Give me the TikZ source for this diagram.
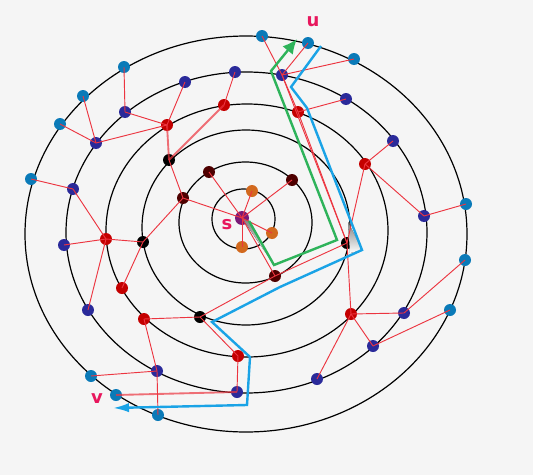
\documentclass[tikz,border=0pt]{standalone}
\usepackage{fontspec}
\setsansfont{DejaVu Sans}
\usetikzlibrary{arrows.meta}
\definecolor{paper}{HTML}{F5F5F5}
\definecolor{srcc}{HTML}{7A1A78}
\definecolor{hopa}{HTML}{D2691E}
\definecolor{hopb}{HTML}{4E0000}
\definecolor{hopc}{HTML}{000000}
\definecolor{hopd}{HTML}{C40000}
\definecolor{hope}{HTML}{2A2A9A}
\definecolor{hopf}{HTML}{0A7AB8}
\definecolor{linkc}{HTML}{EC3540}
\definecolor{greenc}{HTML}{2EB35A}
\definecolor{bluec}{HTML}{1AA3E6}
\definecolor{tagc}{HTML}{E8175D}
\definecolor{shade}{HTML}{D3D3D3}

\begin{document}
\begin{tikzpicture}[x=0.75pt,y=-0.75pt,
    dot/.style={shape=circle,inner sep=0pt,minimum size=9pt},
    src/.style={dot,fill=srcc,minimum size=10.5pt},
    hop1/.style={dot,fill=hopa},
    hop2/.style={dot,fill=hopb},
    hop3/.style={dot,fill=hopc},
    hop4/.style={dot,fill=hopd},
    hop5/.style={dot,fill=hope},
    hop6/.style={dot,fill=hopf},
    ring/.style={draw=black,line width=0.9pt},
    link/.style={draw=linkc,line width=0.7pt},
    widelink/.style={draw=linkc,line width=1.4pt,opacity=0.7},
    walk/.style={line width=1.8pt,line join=miter},
    tag/.style={text=tagc,font=\sffamily\bfseries\fontsize{13.5}{16}\selectfont}]
            \fill[paper](0,0)rectangle(533,475);
            \useasboundingbox(0,0)rectangle(533,475);
            % rings
            \draw[ring](243.5,219)ellipse[x radius=31.5,y radius=30];
            \draw[ring](245.5,222.5)ellipse[x radius=66.5,y radius=60.5];
            \draw[ring](246,227.5)ellipse[x radius=104,y radius=97.5];
            \draw[ring](247,230.5)ellipse[x radius=141,y radius=126.5];
            \draw[ring](246.5,232.5)ellipse[x radius=180.5,y radius=160.5];
            \draw[ring](246,234)ellipse[x radius=221,y radius=198];
            % nodes
            \node[src](s)at(242, 218){};
            \node[hop1](a1)at(252, 191){};
            \node[hop1](a2)at(272, 233){};
            \node[hop1](a3)at(242, 247){};
            \node[hop2](b1)at(209, 172){};
            \node[hop2](b2)at(292, 180){};
            \node[hop2](b3)at(183, 198){};
            \node[hop2](b4)at(275, 276){};
            \node[hop3](c1)at(169, 160){};
            \node[hop3](c2)at(143, 242){};
            \node[hop3](c3)at(347, 243){};
            \node[hop3](c4)at(200, 317){};
            \node[hop4](d1)at(224, 105){};
            \node[hop4](d2)at(167, 125){};
            \node[hop4](d3)at(298, 112){};
            \node[hop4](d4)at(365, 164){};
            \node[hop4](d5)at(106, 239){};
            \node[hop4](d6)at(122, 288){};
            \node[hop4](d7)at(144, 319){};
            \node[hop4](d8)at(351, 314){};
            \node[hop4](d9)at(238, 356){};
            \node[hop5](e1)at(235, 72){};
            \node[hop5](e2)at(185, 82){};
            \node[hop5](e3)at(125, 112){};
            \node[hop5](e4)at(96, 143){};
            \node[hop5](e5)at(73, 189){};
            \node[hop5](e6)at(64, 245){};
            \node[hop5](e7)at(88, 310){};
            \node[hop5](e8)at(282, 75){};
            \node[hop5](e9)at(346, 99){};
            \node[hop5](e10)at(393, 141){};
            \node[hop5](e11)at(424, 216){};
            \node[hop5](e12)at(404, 313){};
            \node[hop5](e13)at(373, 346){};
            \node[hop5](e14)at(317, 379){};
            \node[hop5](e15)at(157, 371){};
            \node[hop5](e16)at(237, 392){};
            \node[hop6](f1)at(262, 36){};
            \node[hop6](f2)at(308, 43){};
            \node[hop6](f3)at(354, 59){};
            \node[hop6](f4)at(124, 67){};
            \node[hop6](f5)at(83, 96){};
            \node[hop6](f6)at(60, 124){};
            \node[hop6](f7)at(31, 179){};
            \node[hop6](f8)at(466, 204){};
            \node[hop6](f9)at(465, 260){};
            \node[hop6](f10)at(450, 310){};
            \node[hop6](f11)at(91, 376){};
            \node[hop6](f12)at(116, 395){};
            \node[hop6](f13)at(158, 415){};
            % shaded gaps
            \coordinate(g0)at(249, 221);
            \coordinate(g1)at(274, 265);
            \coordinate(g2)at(337, 240);
            \coordinate(g3)at(271, 71);
            \coordinate(u)at(297, 39);
            \coordinate(h0)at(321, 46);
            \coordinate(h1)at(291, 87);
            \coordinate(h2)at(307, 108);
            \coordinate(h3)at(362, 250);
            \coordinate(h4)at(280, 287);
            \coordinate(h5)at(212, 322);
            \coordinate(h6)at(250, 357);
            \coordinate(h7)at(247, 405);
            \coordinate(v)at(113, 408);
            \fill[shade](s.center)--(g0)--(272, 262)--cycle;
            \fill[shade](348, 222)--(h3)--(350, 253)--cycle;
            % tree links
            \path[link](s.center) edge (a1.center) edge (a2.center) edge (a3.center)
            edge (b1.center) edge (b2.center) edge (b3.center) edge (b4.center)
            (b3.center) edge (c1.center) edge (c2.center)
            (b4.center) edge (c3.center) edge (c4.center)
            (c2.center) edge (d5.center) edge (d6.center)
            (c3.center) edge (d3.center) edge (d4.center) edge (d8.center) edge (e8.center)
            (c4.center) edge (d7.center) edge (d9.center)
            (d1.center) edge (e1.center)
            (d2.center) edge (e2.center) edge (e3.center) edge (e4.center)
            (d3.center) edge (e8.center) edge (e9.center)
            (d4.center) edge (e10.center) edge (e11.center)
            (d5.center) edge (e5.center) edge (e6.center) edge (e7.center)
            (d7.center) edge (e15.center)
            (d8.center) edge (e12.center) edge (e13.center) edge (e14.center)
            (d9.center) edge (e16.center)
            (e3.center) edge (f4.center)
            (e4.center) edge (f5.center) edge (f6.center)
            (e5.center) edge (f7.center)
            (e8.center) edge (f1.center) edge (f2.center) edge (f3.center)
            (e11.center) edge (f8.center)
            (e12.center) edge (f9.center)
            (e13.center) edge (f10.center)
            (e15.center) edge (f11.center) edge (f13.center);
            \path[widelink](c1.center) edge (d1.center) edge (d2.center)
            (e16.center) edge (f12.center);
            % walks
            \draw[walk,greenc,-{Latex[length=11pt,width=10pt]}](g0)--(g1)--(g2)--(g3)--(u);
            \draw[walk,bluec,-{Latex[length=12pt,width=7pt]}](h0)--(h1)--(h2)--(h3)--(h4)--(h5)--(h6)--(h7)--(v);
            % labels
            \node[tag](slab)at(227, 225){s};
            \node[tag](ulab)at(313, 22){u};
            \node[tag](vlab)at(97, 399){v};
        \end{tikzpicture}
\end{document}
